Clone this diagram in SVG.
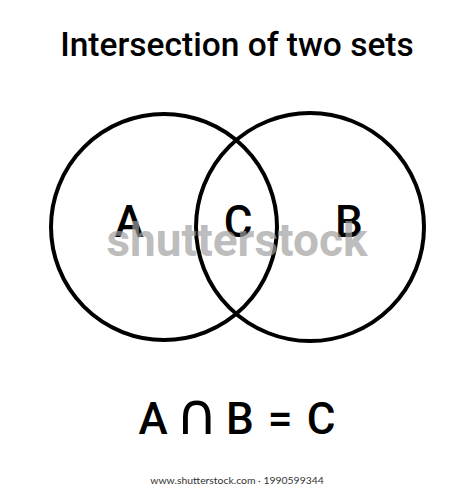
<svg xmlns="http://www.w3.org/2000/svg" width="474" height="489" viewBox="0 0 474 489">
<style>
.t{font-family:Roboto,"Liberation Sans",sans-serif;font-weight:500;fill:#000;text-anchor:middle}
.c{fill:none;stroke:#000;stroke-width:4}
</style>
<rect width="474" height="489" fill="#fff"/>
<text class="t" x="237" y="56" font-size="33.5">Intersection of two sets</text>
<g id="setA"><circle class="c" cx="164" cy="227" r="113"/><text class="t" x="129" y="237" font-size="44">A</text></g>
<g id="setB"><circle class="c" cx="310" cy="227" r="114"/><text class="t" x="349" y="237" font-size="44">B</text></g>
<g id="setC"><text class="t" x="238" y="237" font-size="44">C</text></g>
<g id="connectors"/>
<text font-family="Roboto,'Liberation Sans',sans-serif" font-weight="700" font-size="46" fill="#a0a0a0" fill-opacity="0.7" x="237" y="256" text-anchor="middle">shutterstock</text>
<g id="equation">
<text class="t" x="153" y="434" font-size="44">A</text>
<text font-family="'DejaVu Sans',sans-serif" font-size="58" x="197" y="434" text-anchor="middle" fill="#000">∩</text>
<text class="t" x="240" y="434" font-size="44">B</text>
<text class="t" x="280" y="434" font-size="44">=</text>
<text class="t" x="321" y="434" font-size="44">C</text>
</g>
<text font-family="Lato,'Liberation Sans',sans-serif" font-size="10.4" fill="#333" x="237" y="484" text-anchor="middle">www.shutterstock.com · 1990599344</text>
</svg>
